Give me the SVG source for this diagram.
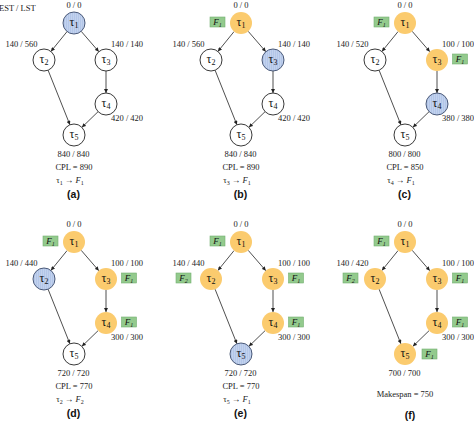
<svg xmlns="http://www.w3.org/2000/svg" width="474" height="424" viewBox="0 0 474 424">
<style>
.num{font-family:"Liberation Serif",serif;font-size:8.5px;fill:#222}
.mid{text-anchor:middle}
.tau{font-family:"Liberation Serif",serif;font-size:12px;fill:#111;text-anchor:middle}
.cap{font-family:"Liberation Sans",sans-serif;font-weight:bold;font-size:10.5px;fill:#111;text-anchor:middle}
.fl{font-family:"Liberation Serif",serif;font-style:italic;font-size:9px;fill:#111;text-anchor:middle}
.white{fill:#fff;stroke:#222;stroke-width:0.9}
.orange{fill:#FBCB6E}
.blue{fill:url(#hatch);stroke:#3A4A6A;stroke-width:0.9}
.gbox{fill:#93CA8D;stroke:#74B070;stroke-width:0.6}
.edge{stroke:#222;stroke-width:0.8;fill:none;marker-end:url(#ah)}
</style>
<defs>
<pattern id="hatch" width="2" height="4" patternUnits="userSpaceOnUse">
<rect width="2" height="4" fill="#C2D2EE"/>
<rect width="0.6" height="4" fill="#AABFE4"/>
</pattern>
<marker id="ah" viewBox="0 0 6 6" refX="6" refY="3" markerWidth="4.5" markerHeight="4" markerUnits="userSpaceOnUse" orient="auto">
<path d="M0,0 L6,3 L0,6 z" fill="#222"/>
</marker>
<g id="edges">
<line class="edge" x1="67.07" y1="31.55" x2="50.93" y2="51.45"/>
<line class="edge" x1="81.2" y1="31.32" x2="98.8" y2="51.68"/>
<line class="edge" x1="106" y1="71" x2="106" y2="93"/>
<line class="edge" x1="48.08" y1="70.21" x2="69.92" y2="124.79"/>
<line class="edge" x1="98.1" y1="111.65" x2="81.9" y2="127.35"/>
</g>
</defs>

<!-- Panel (a) -->
<g id="panel-a">
<text class="num" x="-1" y="10.5">EST / LST</text>
<g id="a-connectors"><use href="#edges"/></g>
<g id="a-t1"><circle class="blue" cx="74" cy="23" r="11"/><text class="tau" x="74" y="25.5">τ<tspan font-size="8" dy="2.5">1</tspan></text></g>
<g id="a-t2"><circle class="white" cx="44" cy="60" r="11"/><text class="tau" x="44" y="62.5">τ<tspan font-size="8" dy="2.5">2</tspan></text></g>
<g id="a-t3"><circle class="white" cx="106" cy="60" r="11"/><text class="tau" x="106" y="62.5">τ<tspan font-size="8" dy="2.5">3</tspan></text></g>
<g id="a-t4"><circle class="white" cx="106" cy="104" r="11"/><text class="tau" x="106" y="106.5">τ<tspan font-size="8" dy="2.5">4</tspan></text></g>
<g id="a-t5"><circle class="white" cx="74" cy="135" r="11"/><text class="tau" x="74" y="137.5">τ<tspan font-size="8" dy="2.5">5</tspan></text></g>
<text class="num mid" x="74" y="8">0 / 0</text>
<text class="num mid" x="21.5" y="47">140 / 560</text>
<text class="num" x="111" y="47">140 / 140</text>
<text class="num" x="111" y="121">420 / 420</text>
<text class="num mid" x="73.5" y="157">840 / 840</text>
<text class="num mid" x="74" y="170">CPL = 890</text>
<text class="num mid" x="70" y="183">τ<tspan font-size="6" dy="1.5">1</tspan><tspan dy="-1.5"> → </tspan><tspan font-style="italic">F</tspan><tspan font-size="6" dy="1.5">1</tspan></text>
<text class="cap" x="73.5" y="197.5">(a)</text>
</g>

<!-- Panel (b) -->
<g id="panel-b" transform="translate(167,0)">
<g id="b-connectors"><use href="#edges"/></g>
<g id="b-t1"><circle class="orange" cx="74" cy="23" r="11"/><text class="tau" x="74" y="25.5">τ<tspan font-size="8" dy="2.5">1</tspan></text>
<rect class="gbox" x="43" y="17" width="15" height="10"/><text class="fl" x="50.5" y="25">F<tspan font-size="6" dy="1.5">1</tspan></text></g>
<g id="b-t2"><circle class="white" cx="44" cy="60" r="11"/><text class="tau" x="44" y="62.5">τ<tspan font-size="8" dy="2.5">2</tspan></text></g>
<g id="b-t3"><circle class="blue" cx="106" cy="60" r="11"/><text class="tau" x="106" y="62.5">τ<tspan font-size="8" dy="2.5">3</tspan></text></g>
<g id="b-t4"><circle class="white" cx="106" cy="104" r="11"/><text class="tau" x="106" y="106.5">τ<tspan font-size="8" dy="2.5">4</tspan></text></g>
<g id="b-t5"><circle class="white" cx="74" cy="135" r="11"/><text class="tau" x="74" y="137.5">τ<tspan font-size="8" dy="2.5">5</tspan></text></g>
<text class="num mid" x="74" y="8">0 / 0</text>
<text class="num mid" x="21.5" y="47">140 / 560</text>
<text class="num" x="111" y="47">140 / 140</text>
<text class="num" x="111" y="121">420 / 420</text>
<text class="num mid" x="73.5" y="157">840 / 840</text>
<text class="num mid" x="74" y="170">CPL = 890</text>
<text class="num mid" x="70" y="183">τ<tspan font-size="6" dy="1.5">3</tspan><tspan dy="-1.5"> → </tspan><tspan font-style="italic">F</tspan><tspan font-size="6" dy="1.5">1</tspan></text>
<text class="cap" x="73.5" y="197.5">(b)</text>
</g>

<!-- Panel (c) -->
<g id="panel-c" transform="translate(331,0)">
<g id="c-connectors"><use href="#edges"/></g>
<g id="c-t1"><circle class="orange" cx="74" cy="23" r="11"/><text class="tau" x="74" y="25.5">τ<tspan font-size="8" dy="2.5">1</tspan></text>
<rect class="gbox" x="43" y="17" width="15" height="10"/><text class="fl" x="50.5" y="25">F<tspan font-size="6" dy="1.5">1</tspan></text></g>
<g id="c-t2"><circle class="white" cx="44" cy="60" r="11"/><text class="tau" x="44" y="62.5">τ<tspan font-size="8" dy="2.5">2</tspan></text></g>
<g id="c-t3"><circle class="orange" cx="106" cy="60" r="11"/><text class="tau" x="106" y="62.5">τ<tspan font-size="8" dy="2.5">3</tspan></text>
<rect class="gbox" x="121.5" y="54" width="15" height="10"/><text class="fl" x="129" y="62">F<tspan font-size="6" dy="1.5">1</tspan></text></g>
<g id="c-t4"><circle class="blue" cx="106" cy="104" r="11"/><text class="tau" x="106" y="106.5">τ<tspan font-size="8" dy="2.5">4</tspan></text></g>
<g id="c-t5"><circle class="white" cx="74" cy="135" r="11"/><text class="tau" x="74" y="137.5">τ<tspan font-size="8" dy="2.5">5</tspan></text></g>
<text class="num mid" x="74" y="8">0 / 0</text>
<text class="num mid" x="21.5" y="47">140 / 520</text>
<text class="num" x="111" y="47">100 / 100</text>
<text class="num" x="111" y="121">380 / 380</text>
<text class="num mid" x="73.5" y="157">800 / 800</text>
<text class="num mid" x="74" y="170">CPL = 850</text>
<text class="num mid" x="70" y="183">τ<tspan font-size="6" dy="1.5">4</tspan><tspan dy="-1.5"> → </tspan><tspan font-style="italic">F</tspan><tspan font-size="6" dy="1.5">1</tspan></text>
<text class="cap" x="73.5" y="197.5">(c)</text>
</g>

<!-- Panel (d) -->
<g id="panel-d" transform="translate(0,219)">
<g id="d-connectors"><use href="#edges"/></g>
<g id="d-t1"><circle class="orange" cx="74" cy="23" r="11"/><text class="tau" x="74" y="25.5">τ<tspan font-size="8" dy="2.5">1</tspan></text>
<rect class="gbox" x="43" y="17" width="15" height="10"/><text class="fl" x="50.5" y="25">F<tspan font-size="6" dy="1.5">1</tspan></text></g>
<g id="d-t2"><circle class="blue" cx="44" cy="60" r="11"/><text class="tau" x="44" y="62.5">τ<tspan font-size="8" dy="2.5">2</tspan></text></g>
<g id="d-t3"><circle class="orange" cx="106" cy="60" r="11"/><text class="tau" x="106" y="62.5">τ<tspan font-size="8" dy="2.5">3</tspan></text>
<rect class="gbox" x="121.5" y="54" width="15" height="10"/><text class="fl" x="129" y="62">F<tspan font-size="6" dy="1.5">1</tspan></text></g>
<g id="d-t4"><circle class="orange" cx="106" cy="104" r="11"/><text class="tau" x="106" y="106.5">τ<tspan font-size="8" dy="2.5">4</tspan></text>
<rect class="gbox" x="121.5" y="98" width="15" height="10"/><text class="fl" x="129" y="106">F<tspan font-size="6" dy="1.5">1</tspan></text></g>
<g id="d-t5"><circle class="white" cx="74" cy="135" r="11"/><text class="tau" x="74" y="137.5">τ<tspan font-size="8" dy="2.5">5</tspan></text></g>
<text class="num mid" x="74" y="8">0 / 0</text>
<text class="num mid" x="21.5" y="47">140 / 440</text>
<text class="num" x="111" y="47">100 / 100</text>
<text class="num" x="111" y="121">300 / 300</text>
<text class="num mid" x="73.5" y="157">720 / 720</text>
<text class="num mid" x="74" y="170">CPL = 770</text>
<text class="num mid" x="70" y="183">τ<tspan font-size="6" dy="1.5">2</tspan><tspan dy="-1.5"> → </tspan><tspan font-style="italic">F</tspan><tspan font-size="6" dy="1.5">2</tspan></text>
<text class="cap" x="73.5" y="197.5">(d)</text>
</g>

<!-- Panel (e) -->
<g id="panel-e" transform="translate(167,219)">
<g id="e-connectors"><use href="#edges"/></g>
<g id="e-t1"><circle class="orange" cx="74" cy="23" r="11"/><text class="tau" x="74" y="25.5">τ<tspan font-size="8" dy="2.5">1</tspan></text>
<rect class="gbox" x="43" y="17" width="15" height="10"/><text class="fl" x="50.5" y="25">F<tspan font-size="6" dy="1.5">1</tspan></text></g>
<g id="e-t2"><circle class="orange" cx="44" cy="60" r="11"/><text class="tau" x="44" y="62.5">τ<tspan font-size="8" dy="2.5">2</tspan></text>
<rect class="gbox" x="9" y="54" width="15" height="10"/><text class="fl" x="16.5" y="62">F<tspan font-size="6" dy="1.5">2</tspan></text></g>
<g id="e-t3"><circle class="orange" cx="106" cy="60" r="11"/><text class="tau" x="106" y="62.5">τ<tspan font-size="8" dy="2.5">3</tspan></text>
<rect class="gbox" x="121.5" y="54" width="15" height="10"/><text class="fl" x="129" y="62">F<tspan font-size="6" dy="1.5">1</tspan></text></g>
<g id="e-t4"><circle class="orange" cx="106" cy="104" r="11"/><text class="tau" x="106" y="106.5">τ<tspan font-size="8" dy="2.5">4</tspan></text>
<rect class="gbox" x="121.5" y="98" width="15" height="10"/><text class="fl" x="129" y="106">F<tspan font-size="6" dy="1.5">1</tspan></text></g>
<g id="e-t5"><circle class="blue" cx="74" cy="135" r="11"/><text class="tau" x="74" y="137.5">τ<tspan font-size="8" dy="2.5">5</tspan></text></g>
<text class="num mid" x="74" y="8">0 / 0</text>
<text class="num mid" x="21.5" y="47">140 / 440</text>
<text class="num" x="111" y="47">100 / 100</text>
<text class="num" x="111" y="121">300 / 300</text>
<text class="num mid" x="73.5" y="157">720 / 720</text>
<text class="num mid" x="74" y="170">CPL = 770</text>
<text class="num mid" x="70" y="183">τ<tspan font-size="6" dy="1.5">5</tspan><tspan dy="-1.5"> → </tspan><tspan font-style="italic">F</tspan><tspan font-size="6" dy="1.5">1</tspan></text>
<text class="cap" x="73.5" y="197.5">(e)</text>
</g>

<!-- Panel (f) -->
<g id="panel-f" transform="translate(331,219)">
<g id="f-connectors"><use href="#edges"/></g>
<g id="f-t1"><circle class="orange" cx="74" cy="23" r="11"/><text class="tau" x="74" y="25.5">τ<tspan font-size="8" dy="2.5">1</tspan></text>
<rect class="gbox" x="43" y="17" width="15" height="10"/><text class="fl" x="50.5" y="25">F<tspan font-size="6" dy="1.5">1</tspan></text></g>
<g id="f-t2"><circle class="orange" cx="44" cy="60" r="11"/><text class="tau" x="44" y="62.5">τ<tspan font-size="8" dy="2.5">2</tspan></text>
<rect class="gbox" x="12" y="54" width="15" height="10"/><text class="fl" x="19.5" y="62">F<tspan font-size="6" dy="1.5">2</tspan></text></g>
<g id="f-t3"><circle class="orange" cx="106" cy="60" r="11"/><text class="tau" x="106" y="62.5">τ<tspan font-size="8" dy="2.5">3</tspan></text>
<rect class="gbox" x="121.5" y="54" width="15" height="10"/><text class="fl" x="129" y="62">F<tspan font-size="6" dy="1.5">1</tspan></text></g>
<g id="f-t4"><circle class="orange" cx="106" cy="104" r="11"/><text class="tau" x="106" y="106.5">τ<tspan font-size="8" dy="2.5">4</tspan></text>
<rect class="gbox" x="121.5" y="98" width="15" height="10"/><text class="fl" x="129" y="106">F<tspan font-size="6" dy="1.5">1</tspan></text></g>
<g id="f-t5"><circle class="orange" cx="74" cy="135" r="11"/><text class="tau" x="74" y="137.5">τ<tspan font-size="8" dy="2.5">5</tspan></text>
<rect class="gbox" x="91" y="130" width="15" height="10"/><text class="fl" x="98.5" y="138">F<tspan font-size="6" dy="1.5">1</tspan></text></g>
<text class="num mid" x="74" y="8">0 / 0</text>
<text class="num mid" x="21.5" y="47">140 / 420</text>
<text class="num" x="111" y="47">100 / 100</text>
<text class="num" x="111" y="121">300 / 300</text>
<text class="num mid" x="73.5" y="157">700 / 700</text>
<text class="num mid" x="74" y="178">Makespan = 750</text>
<text class="cap" x="79" y="200">(f)</text>
</g>
</svg>
